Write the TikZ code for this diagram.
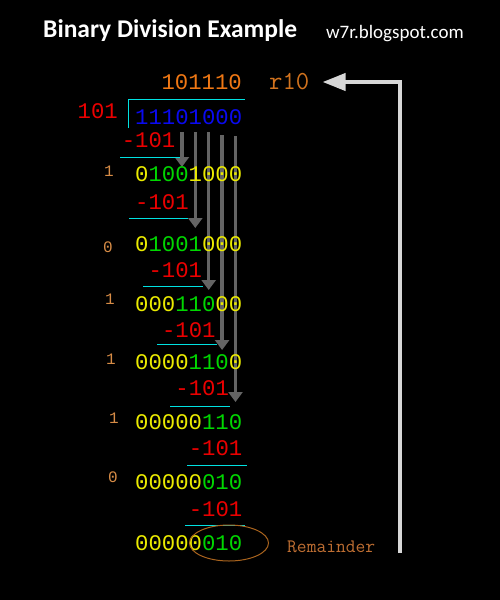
\documentclass[tikz,border=0pt]{standalone}
\usepackage{fontspec}
\setmainfont{Carlito}
\newfontfamily\bitfont{Liberation Mono}
\usetikzlibrary{arrows.meta}
\definecolor{bitY}{RGB}{235,235,0}
\definecolor{bitG}{RGB}{0,215,0}
\definecolor{bitR}{RGB}{235,0,0}
\definecolor{bitB}{RGB}{10,10,240}
\definecolor{bitC}{RGB}{0,225,225}
\definecolor{quot}{RGB}{240,120,20}
\definecolor{rest}{RGB}{210,115,30}
\definecolor{tick}{RGB}{215,140,70}
\definecolor{remtext}{RGB}{190,110,50}
\definecolor{ring}{RGB}{170,100,30}
\definecolor{dropgray}{RGB}{100,100,100}
\definecolor{backgray}{RGB}{215,215,215}
\newcommand{\ylw}[1]{\textcolor{bitY}{#1}}
\newcommand{\grn}[1]{\textcolor{bitG}{#1}}
\begin{document}
\begin{tikzpicture}[x=1pt, y=-1pt,
    bits/.style={font=\bitfont\fontsize{22.3}{24}\selectfont, inner sep=0pt, anchor=west},
    tickbit/.style={font=\bitfont\fontsize{16}{18}\selectfont, text=tick, inner sep=0pt},
    rule/.style={draw=bitC, line width=1pt},
    drop/.style={draw=dropgray, line width=3.5pt, -{Triangle[width=14pt,length=10pt]}},
    back/.style={draw=backgray, line width=4pt, -{Triangle[width=17pt,length=23pt]}}]
            \fill[black] (0, 0) rectangle (500, 600) ;
            % title
            \draw (43, 31) node[anchor=west, inner sep=0pt, text=white, font=\bfseries\fontsize{25.5}{28}\selectfont](title){Binary Division Example} ;
            \draw (464, 34) node[anchor=east, inner sep=0pt, text=white, font=\fontsize{19}{21}\selectfont](site){w7r.blogspot.com} ;
            % drops
            \coordinate (top4) at (181.9, 132) ;
            \coordinate (top5) at (195.3, 132) ;
            \coordinate (top6) at (208.7, 132) ;
            \coordinate (top7) at (222.1, 135) ;
            \coordinate (top8) at (235.5, 136) ;
            \coordinate (end4) at (181.9, 167) ;
            \coordinate (end5) at (195.3, 228) ;
            \coordinate (end6) at (208.7, 290) ;
            \coordinate (end7) at (222.1, 350) ;
            \coordinate (end8) at (235.5, 402) ;
            \draw[drop] (top4) -- (end4) ;
            \draw[drop] (top5) -- (end5) ;
            \draw[drop] (top6) -- (end6) ;
            \draw[drop] (top7) -- (end7) ;
            \draw[drop] (top8) -- (end8) ;
            % quotient
            \draw (242, 82) node[bits, anchor=east, text=quot](quo){101110} ;
            \draw (269, 82) node[anchor=west, inner sep=0pt, text=rest, font=\ttfamily\fontsize{26}{28}\selectfont](r10){r10} ;
            % divisor and dividend
            \draw (118, 111) node[bits, anchor=east, text=bitR](dvs){101} ;
            \draw (135, 117) node[bits, text=bitB](dvd){11101000} ;
            \draw[rule] (128, 128) -- (128, 99) -- (245, 99) ;
            % step 1
            \draw (121.6, 140) node[bits, text=bitR](sub1){-101} ;
            \draw[rule] (120, 157) -- (180, 157) ;
            \draw (109, 171) node[tickbit](q1){1} ;
            \draw (135, 174) node[bits](row1){\ylw{0}\grn{100}\ylw{1000}} ;
            % step 2
            \draw (135, 202) node[bits, text=bitR](sub2){-101} ;
            \draw[rule] (129, 218) -- (188, 218) ;
            \draw (108, 247) node[tickbit](q2){0} ;
            \draw (135, 244) node[bits](row2){\ylw{0}\grn{1001}\ylw{000}} ;
            % step 3
            \draw (148.4, 270) node[bits, text=bitR](sub3){-101} ;
            \draw[rule] (143, 286) -- (203, 286) ;
            \draw (110, 299) node[tickbit](q3){1} ;
            \draw (135, 304) node[bits](row3){\ylw{000}\grn{110}\ylw{00}} ;
            % step 4
            \draw (161.8, 330) node[bits, text=bitR](sub4){-101} ;
            \draw[rule] (157, 344) -- (217, 344) ;
            \draw (111, 359) node[tickbit](q4){1} ;
            \draw (135, 362) node[bits](row4){\ylw{0000}\grn{110}\ylw{0}} ;
            % step 5
            \draw (175.2, 388) node[bits, text=bitR](sub5){-101} ;
            \draw[rule] (170, 406) -- (230, 406) ;
            \draw (114, 418) node[tickbit](q5){1} ;
            \draw (135, 422) node[bits](row5){\ylw{00000}\grn{110}} ;
            % step 6
            \draw (188.6, 448) node[bits, text=bitR](sub6){-101} ;
            \draw[rule] (187, 465) -- (247, 465) ;
            \draw (113, 477) node[tickbit](q6){0} ;
            \draw (135, 482) node[bits](row6){\ylw{00000}\grn{010}} ;
            % remainder
            \draw (188.6, 509) node[bits, text=bitR](sub7){-101} ;
            \draw[rule] (185, 525) -- (245, 525) ;
            \draw (135, 543) node[bits](row7){\ylw{00000}\grn{010}} ;
            \draw[ring, line width=1pt] (229, 543) ellipse [x radius=39.5, y radius=18] ;
            \draw (287, 547) node[anchor=west, inner sep=0pt, text=remtext, font=\ttfamily\fontsize{19}{21}\selectfont](remlabel){Remainder} ;
            % back to r10
            \coordinate (foot) at (400, 553) ;
            \draw[back, shorten >=13pt] (foot) |- (r10) ;
\end{tikzpicture}
\end{document}
